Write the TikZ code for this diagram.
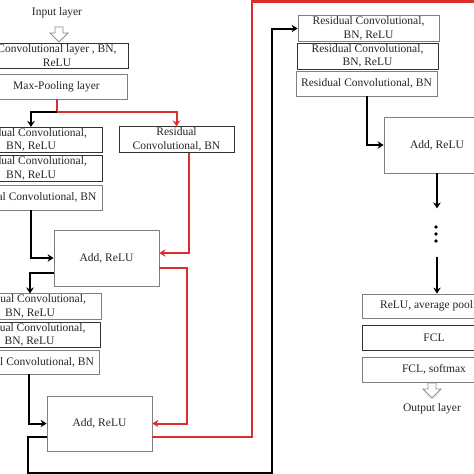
\documentclass[tikz,border=0pt]{standalone}
\usepackage{fontspec}
\setmainfont{Liberation Serif}
\usetikzlibrary{arrows.meta,calc}
\definecolor{myred}{RGB}{216,48,44}
\begin{document}
\begin{tikzpicture}[x=1pt,y=-1pt,
 box/.style={draw=black!50, line width=0.8pt, fill=white, align=center, inner sep=1pt,
   font=\fontsize{11.5}{13.5}\selectfont, text=black!85},
 dbox/.style={box, draw=black!80},
 lbl/.style={font=\fontsize{11.5}{13.5}\selectfont, text=black!85, inner sep=1pt},
 blk/.style={draw=black, line width=2pt, -{Stealth[length=6pt,width=7.5pt]}},
 rarr/.style={draw=myred, line width=2pt, -{Stealth[length=6pt,width=7.5pt]}},
 rline/.style={draw=myred, line width=2pt},
 hollow/.pic={\draw[black!45, line width=0.8pt, fill=white] (-4,0) -- (-4,6) -- (-9,6) -- (0,15) -- (9,6) -- (4,6) -- (4,0) -- cycle;}
]
\useasboundingbox (0,0) rectangle (474,474);
\clip (0,0) rectangle (474,474);
\fill[white] (0,0) rectangle (474,474);

% left column
\node[lbl] (inl) at (57,13) {Input layer};
\node[dbox, minimum width=142pt, minimum height=25pt] (c0) at (57,55.5) {Convolutional layer , BN,\\ReLU};
\node[box, minimum width=141pt, minimum height=25pt] (mp) at (56.5,86.5) {Max-Pooling layer};
\pic at (59,27) {hollow};

\node[dbox, minimum width=142pt, minimum height=24pt] (a1) at (31,140) {Residual Convolutional,\\BN, ReLU};
\node[dbox, minimum width=142pt, minimum height=25pt] (a2) at (31,168.5) {Residual Convolutional,\\BN, ReLU};
\node[box, minimum width=142pt, minimum height=25pt] (a3) at (31,197.5) {Residual Convolutional, BN};
\node[dbox, minimum width=115pt, minimum height=25pt] (b1) at (176.5,139.5) {Residual\\Convolutional, BN};
\node[box, minimum width=105pt, minimum height=56pt] (add1) at (106.5,258) {Add, ReLU};

\node[box, minimum width=142pt, minimum height=23pt] (c1) at (30,306.5) {Residual Convolutional,\\BN, ReLU};
\node[dbox, minimum width=142pt, minimum height=24pt] (c2) at (29.5,335) {Residual Convolutional,\\BN, ReLU};
\node[box, minimum width=142pt, minimum height=24pt] (c3) at (28.5,362) {Residual Convolutional, BN};
\node[box, minimum width=105pt, minimum height=55pt] (add2) at (99.5,423.5) {Add, ReLU};

% right column
\node[box, minimum width=141pt, minimum height=25pt] (r1) at (368.5,28.5) {Residual Convolutional,\\BN, ReLU};
\node[dbox, minimum width=141pt, minimum height=26pt] (r2) at (367.5,56) {Residual Convolutional,\\BN, ReLU};
\node[box, minimum width=141pt, minimum height=25pt] (r3) at (366.5,83.5) {Residual Convolutional, BN};
\node[box, minimum width=106pt, minimum height=56pt] (addr) at (437,145) {Add, ReLU};

\node[box, minimum width=144pt, minimum height=24pt] (rp) at (434,306) {ReLU, average pooling};
\node[dbox, minimum width=144pt, minimum height=25pt] (fcl) at (434,337.5) {FCL};
\node[box, minimum width=144pt, minimum height=25pt] (fsm) at (434,369.5) {FCL, softmax};
\pic at (432,383) {hollow};
\node[lbl] (outl) at (432,409) {Output layer};

% connectors block 1
\draw[rline] (mp.south) -- ++(0,13) coordinate (j1);
\draw[blk] (j1) -| (a1.north);
\draw[rarr] (j1) -| (b1.north);
\draw[blk] (a3.south) |- (add1.west);
\draw[rarr] ($(b1.south)+(12.5,0)$) |- ($(add1.east)+(0,-5)$);

% block 1 -> block 2
\draw[rarr] ($(add1.east)+(0,10)$) -- ++(28,0) |- (add2.east);
\draw[blk] ($(add1.west)+(0,15)$) -| (c1.north);
\draw[blk] (c3.south) |- (add2.west);

% block 2 -> block 3
\coordinate (rc) at (252,1.5);
\coordinate (re) at (490,1.5);
\draw[rline, line width=2.4pt] ($(add2.east)+(0,13.5)$) -| (rc) -- (re);
\coordinate (bl1) at (28,472.5);
\coordinate (bl2) at (272,472.5);
\draw[blk] ($(add2.west)+(0,13.5)$) -| (bl1) -- (bl2) |- (r1.west);
\draw[blk] (r3.south) |- (addr.west);

% tail
\draw[blk] (addr.south) -- ++(0,35) coordinate (d0);
\foreach \yy in {227,234,241} \fill (436,\yy) circle (1.8pt);
\coordinate (d2) at (437,257);
\draw[blk] (d2) -- ($(rp.north)+(3,0)$);
\end{tikzpicture}
\end{document}
